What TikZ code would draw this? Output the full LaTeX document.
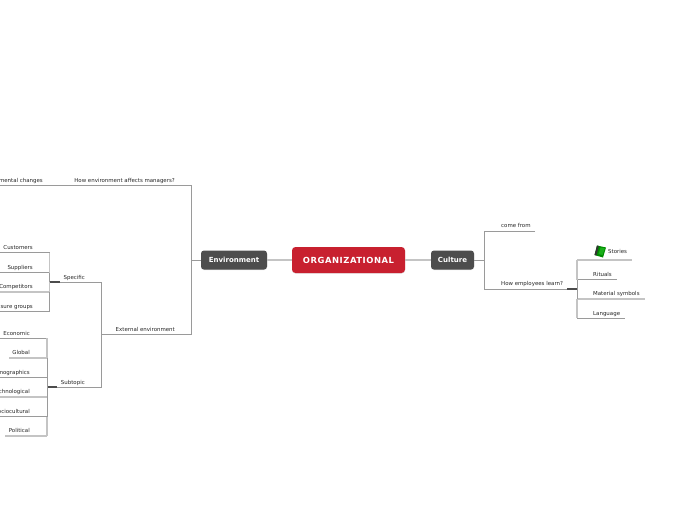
\documentclass[tikz,border=0pt]{standalone}
\usepackage{fontspec}
\setmainfont{DejaVu Sans}
\newfontfamily\rootfont[LetterSpace=6.5]{DejaVu Sans}
\usetikzlibrary{shadows}
\definecolor{lineg}{HTML}{9A9A9A}
\definecolor{lineb}{HTML}{C4C4C4}
\definecolor{darkbox}{HTML}{4D4D4D}
\definecolor{redbox}{HTML}{C8202F}
\tikzset{
  x=1pt,y=-1pt,
  rootbox/.style={draw=none,fill=redbox,rounded corners=3.5pt,minimum width=113pt,minimum height=26pt,inner sep=0pt,text=white,font=\rootfont\bfseries\fontsize{8.4}{10}\selectfont,drop shadow={shadow xshift=0pt,shadow yshift=-0.6pt,opacity=.25}},
  mainbox/.style={draw=none,fill=darkbox,rounded corners=3pt,minimum height=19pt,inner sep=0pt,text=white,font=\bfseries\fontsize{7}{8}\selectfont,drop shadow={shadow xshift=0pt,shadow yshift=-0.6pt,opacity=.25}},
  lbl/.style={inner sep=0pt,font=\fontsize{5.45}{6.5}\selectfont,text=black!85},
  llbl/.style={lbl,anchor=base west},
  rlbl/.style={lbl,anchor=base east},
  wire/.style={draw=lineg,line width=.9pt},
  soft/.style={draw=lineb,line width=1.1pt},
  heavy/.style={draw=black!70,line width=1.1pt},
}
\begin{document}
\begin{tikzpicture}
\useasboundingbox (0,0) rectangle (697,520);
\clip (0,0) rectangle (697,520);
\fill[white] (0,0) rectangle (697,520);
% hubs
\node[rootbox] (root) at (348.5,260) {ORGANIZATIONAL};
\node[mainbox,minimum width=66pt] (env) at (234,260) {Environment};
\node[mainbox,minimum width=43pt] (cul) at (452.5,260) {Culture};
\draw[soft] (env.east) -- (root.west);
\draw[soft] (root.east) -- (cul.west);
% left coordinates
\coordinate (eL) at (191.5,260);
\coordinate (howR) at (191.5,185);
\coordinate (howL) at (0,185);
\coordinate (extR) at (191.5,334);
\coordinate (extL) at (101.5,334);
\coordinate (speR) at (101.5,282);
\coordinate (speL) at (60,282);
\coordinate (speJ) at (49.5,282);
\coordinate (subR) at (101.5,387);
\coordinate (subL) at (57,387);
\coordinate (subJ) at (47,387);
% labels
\node[rlbl] (how) at (175,182) {How environment affects managers?};
\node[rlbl] (chg) at (43,182) {mental changes};
\node[rlbl] (ext) at (175,331) {External environment};
\node[rlbl] (spe) at (85,279) {Specific};
\node[rlbl] (sub) at (85,384) {Subtopic};
\node[rlbl] (c1) at (33,249) {Customers};
\node[rlbl] (c2) at (33,269) {Suppliers};
\node[rlbl] (c3) at (33,288) {Competitors};
\node[rlbl] (c4) at (33,308) {sure groups};
\node[rlbl] (d1) at (30,335) {Economic};
\node[rlbl] (d2) at (30,354) {Global};
\node[rlbl] (d3) at (30,374) {mographics};
\node[rlbl] (d4) at (30,393) {chnological};
\node[rlbl] (d5) at (30,413) {ociocultural};
\node[rlbl] (d6) at (30,432) {Political};
% left wires
\draw[wire] (env.west) -- (eL);
\draw[wire] (howL) -- (howR) -- (extR) -- (extL);
\draw[wire] (speL) -- (speR) -- (subR) -- (subL);
\draw[heavy] (speJ) -- (speL);
\draw[heavy] (subJ) -- (subL);
\foreach \n/\y/\s in {a/252.5/wire,b/272.5/wire,c/292/soft,d/311/wire}{
  \coordinate (sp\n) at (49.5,\y);
  \coordinate (st\n) at (0,\y);
  \draw[\s] (st\n) -- (sp\n);
}
\draw[soft] (spa) -- (speJ);
\draw[wire] (speJ) -- (spb);
\draw[soft] (speJ) -- (spc);
\draw[wire] (spc) -- (spd);
\foreach \n/\y/\x/\s in {a/338/0/wire,b/358/9/soft,c/377.5/0/wire,d/397/0/soft,e/416.5/0/wire,f/436/5/soft}{
  \coordinate (sb\n) at (47,\y);
  \coordinate (sc\n) at (\x,\y);
  \draw[\s] (sc\n) -- (sb\n);
}
\draw[soft] (sba) -- (sbb);
\draw[wire] (sbb) -- (sbe);
\draw[soft] (sbe) -- (sbf);
% right
\coordinate (cR) at (484.5,260);
\coordinate (fromL) at (484.5,231);
\coordinate (fromR) at (535,231);
\coordinate (lrnL) at (484.5,289);
\coordinate (lrnR) at (567,289);
\coordinate (lrnJ) at (577,289);
\node[llbl] (from) at (501,227) {come from};
\node[llbl] (lrn) at (501,285) {How employees learn?};
\node[llbl] (sto) at (608,253) {Stories};
\node[llbl] (rit) at (593,276) {Rituals};
\node[llbl] (mat) at (593,295) {Material symbols};
\node[llbl] (lan) at (593,315) {Language};
\draw[wire] (cul.east) -- (cR);
\draw[wire] (fromR) -- (fromL) -- (lrnL) -- (lrnR);
\draw[heavy] (lrnR) -- (lrnJ);
\coordinate (r1L) at (577,260); \coordinate (r1R) at (632,260);
\coordinate (r2L) at (577,279.5); \coordinate (r2R) at (617,279.5);
\coordinate (r3L) at (577,299); \coordinate (r3R) at (645,299);
\coordinate (r4L) at (577,318); \coordinate (r4R) at (625,318);
\draw[soft] (r1L) -- (r1R);
\draw[wire] (r2L) -- (r2R);
\draw[soft] (r3L) -- (r3R);
\draw[wire] (r4L) -- (r4R);
\draw[soft] (r1L) -- (r2L);
\draw[wire] (r2L) -- (r3L);
\draw[soft] (r3L) -- (r4L);
% book icon
\fill[green!55!black] (597,245.5) -- (606,247.5) -- (603,257.5) -- (594.5,255) -- cycle;
\fill[black!80] (597,245.5) -- (594.5,255) -- (596.5,255.6) -- (598.8,246) -- cycle;
\fill[green!65!black!90] (600.5,247.5) -- (604.8,248.4) -- (602.5,255) -- (598.5,254) -- cycle;
\end{tikzpicture}
\end{document}
